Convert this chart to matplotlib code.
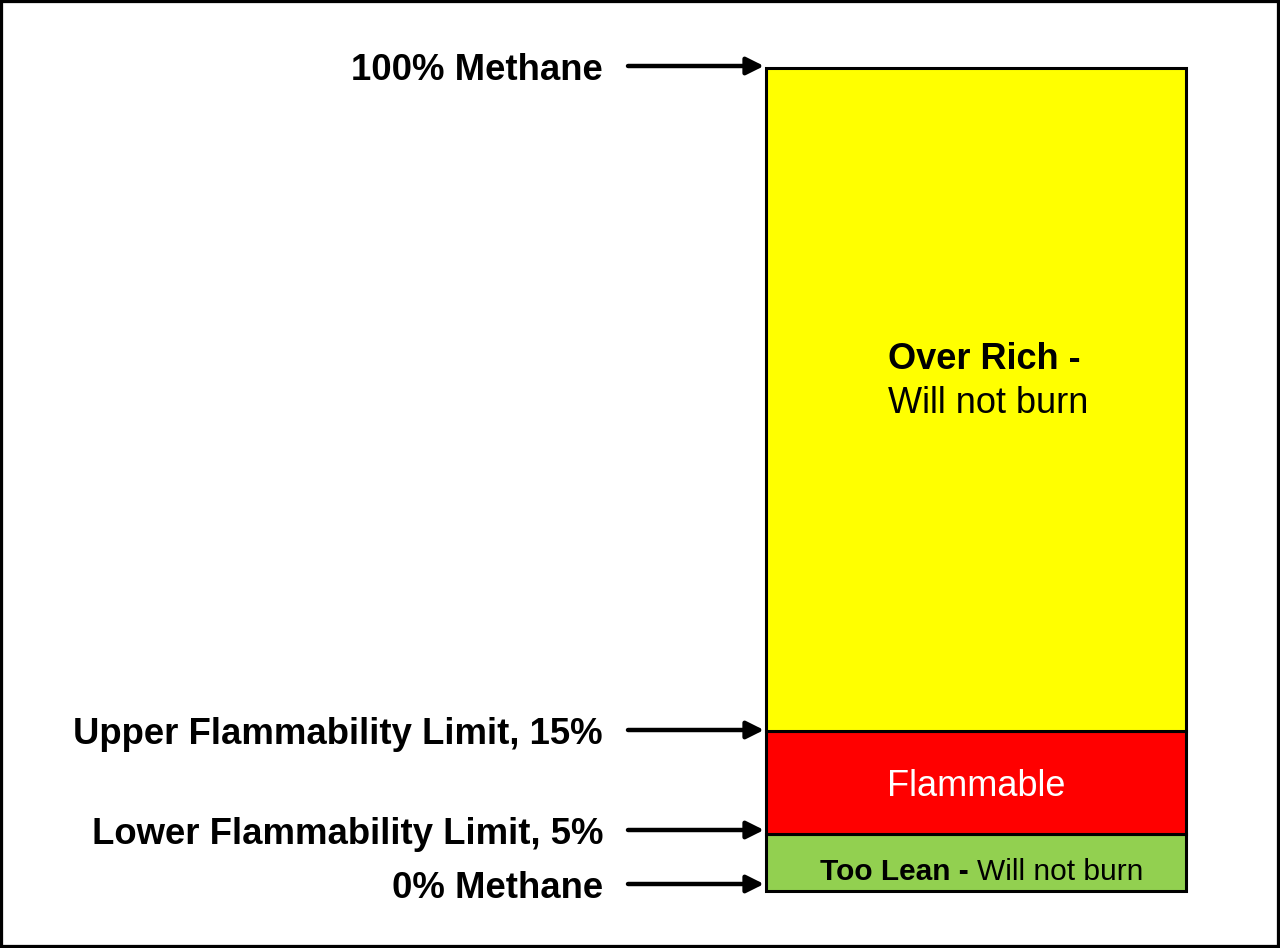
import numpy as np
import matplotlib
matplotlib.use("Agg")
import matplotlib.pyplot as plt
from matplotlib.patches import Rectangle

plt.rcParams['font.family'] = ['Liberation Sans', 'DejaVu Sans']

# methane levels marked on the left (bottom to top)
levels = ["0% Methane", "Lower Flammability Limit, 5%",
          "Upper Flammability Limit, 15%", "100% Methane"]
# bands of the column, drawn height of each (schematic, not to scale)
zones = ["Too Lean", "Flammable", "Over Rich"]
zone_heights = [57, 103, 663]
zone_colors = ["#92d050", "#ff0000", "#ffff00"]

# layout (figure pixel units)
W, H = 1280, 948
base = 57
bar_x, bar_w = 976, 420
arrow_x0, arrow_x1 = 628, 764
label_x = 603
arrow_nudge = [7, 4, 1, 2]

fig = plt.figure(figsize=(W / 100, H / 100), dpi=100)
ax = fig.add_axes([0, 0, 1, 1])
ax.set_xlim(0, W)
ax.set_ylim(0, H)
ax.axis('off')

bottoms = base + np.concatenate([[0], np.cumsum(zone_heights)[:-1]])
ax.bar(bar_x, zone_heights, bottom=bottoms, width=bar_w, color=zone_colors,
       edgecolor='black', linewidth=2.2, zorder=2)

bounds = base + np.concatenate([[0], np.cumsum(zone_heights)])
for lab, yb, dy in zip(levels, bounds, arrow_nudge):
    y = yb + dy
    ax.annotate('', xy=(arrow_x1, y), xytext=(arrow_x0, y),
                arrowprops=dict(arrowstyle='-|>', lw=3.2, color='black',
                                mutation_scale=26, shrinkA=0, shrinkB=0))
    ax.text(label_x, y - 4, lab, ha='right', va='center', fontsize=26.3,
            fontweight='bold')

# band captions
rich_mid = bottoms[2] + zone_heights[2] * 0.53
ax.text(888, rich_mid + 20, "Over Rich -", ha='left', va='center',
        fontsize=26, fontweight='bold', zorder=3)
ax.text(888, rich_mid - 24, "Will not burn", ha='left', va='center',
        fontsize=26, zorder=3)
ax.text(bar_x, bottoms[1] + zone_heights[1] / 2 - 4, "Flammable",
        ha='center', va='center', fontsize=26, color='white', zorder=3)
lean_y = bottoms[0] + zone_heights[0] / 2 - 9
ax.text(969, lean_y, "Too Lean -", ha='right', va='center', fontsize=21.5,
        fontweight='bold', zorder=3)
ax.text(977, lean_y, "Will not burn", ha='left', va='center', fontsize=21.5,
        zorder=3)

fig.add_artist(Rectangle((0, 0), 1, 1, transform=fig.transFigure,
                         fill=False, edgecolor='black', linewidth=4.5))

fig.savefig("out.png", dpi=100)
